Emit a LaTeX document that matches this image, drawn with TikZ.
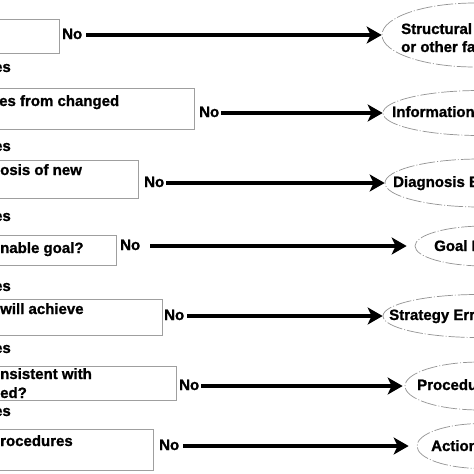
\documentclass[tikz,border=0pt]{standalone}
\usepackage{fontspec}
\setmainfont{Liberation Sans}
\newfontfamily\heavyfont{Liberation Sans Bold}[FakeBold=1.1]
\usepackage{tikz}
\usetikzlibrary{arrows.meta}
\usetikzlibrary{shapes}
\tikzset{
  boxline/.style={draw=gray!75, line width=0.7pt},
  errshape/.style={shape=ellipse, draw=gray!85, line width=0.7pt, dash pattern=on 16pt off 2pt on 1pt off 2pt, inner sep=0pt},
  labl/.style={inner sep=0pt, anchor=west, font=\fontsize{15}{17}\selectfont\heavyfont, text height=11pt, text depth=3pt},
  nolabl/.style={labl, inner sep=2pt},
  noarrow/.style={-{Stealth[length=15pt,width=17pt,inset=4pt]}, line width=3.8pt}
}
\newcommand{\qbox}[3]{ \draw[boxline] ( -10 , #1 ) rectangle ( #3 , #2 );}
\newcommand{\lablnode}[4]{\node[labl] (#1) at ( #2 , #3 ) {#4};}
\newcommand{\yesnode}[3]{\node[labl, anchor=east] (#1) at ( #2 , #3 ) {es};}
\newcommand{\nonode}[3]{\node[nolabl] (#1) at ( #2 , #3 ) {No};}
\newcommand{\errnode}[5]{\node[errshape, minimum width=#4pt, minimum height=#5pt] (#1) at ( #2 , #3 ) {};}

\begin{document}
\begin{tikzpicture}[x=1pt, y=-1pt]
        \useasboundingbox (0,0) rectangle (474,474);
        \clip (0,0) rectangle (474,474);
        \fill[white] (0,0) rectangle (474,474);

        % row1
        \qbox{19}{53}{59}
        \nonode{no1}{60}{35}
        \errnode{err1}{475}{35}{186}{64}
        \lablnode{t1a}{401}{30}{Structural}
        \lablnode{t1b}{401}{48}{or other fa}
        \draw[noarrow] (no1.east) ++(2,0) -- (err1.west);
        \yesnode{y1}{11}{68}
        % row2
        \qbox{88}{129}{194}
        \lablnode{q2}{-1}{102}{es from changed}
        \nonode{no2}{197}{113}
        \errnode{err2}{480}{113}{194}{45}
        \lablnode{t2}{392}{113}{Information}
        \draw[noarrow] (no2.east) -- (err2.west);
        \yesnode{y2}{11}{147}
        % row3
        \qbox{160}{198}{138}
        \lablnode{q3}{0}{171}{osis of new}
        \nonode{no3}{142}{183}
        \errnode{err3}{480}{183}{190}{48}
        \lablnode{t3}{393}{183}{Diagnosis E}
        \draw[noarrow] (no3.east) -- (err3.west);
        \yesnode{y3}{11}{217}
        % row4
        \qbox{235}{265}{116}
        \lablnode{q4}{0}{249}{nable goal?}
        \nonode{no4}{118}{246}
        \errnode{err4}{485}{246}{140}{40}
        \lablnode{t4}{434}{247}{Goal E}
        \draw[noarrow, shorten >=8pt] (no4.east) ++(8,0) -- (err4.west);
        \yesnode{y4}{11}{287}
        % row5
        \qbox{299}{335}{162}
        \lablnode{q5}{0}{310}{will achieve}
        \nonode{no5}{162}{316}
        \errnode{err5}{478}{316}{190}{43}
        \lablnode{t5}{389}{316}{Strategy Err}
        \draw[noarrow] (no5.east) ++(1,0) -- (err5.west);
        \yesnode{y5}{11}{349}
        % row6
        \qbox{366}{400}{176}
        \lablnode{q6a}{0}{375}{nsistent with}
        \lablnode{q6b}{0}{394}{ed?}
        \nonode{no6}{177}{386}
        \errnode{err6}{480}{386}{150}{48}
        \lablnode{t6}{417}{386}{Procedu}
        \draw[noarrow, shorten >=2pt] (no6.east) -- (err6.west);
        \yesnode{y6}{11}{412}
        % row7
        \qbox{429}{470}{153}
        \lablnode{q7}{0}{442}{rocedures}
        \nonode{no7}{157}{446}
        \errnode{err7}{482}{446}{130}{45}
        \lablnode{t7}{431}{447}{Action}
        \draw[noarrow, shorten >=8pt] (no7.east) ++(2,0) -- (err7.west);

    \end{tikzpicture}
\end{document}
